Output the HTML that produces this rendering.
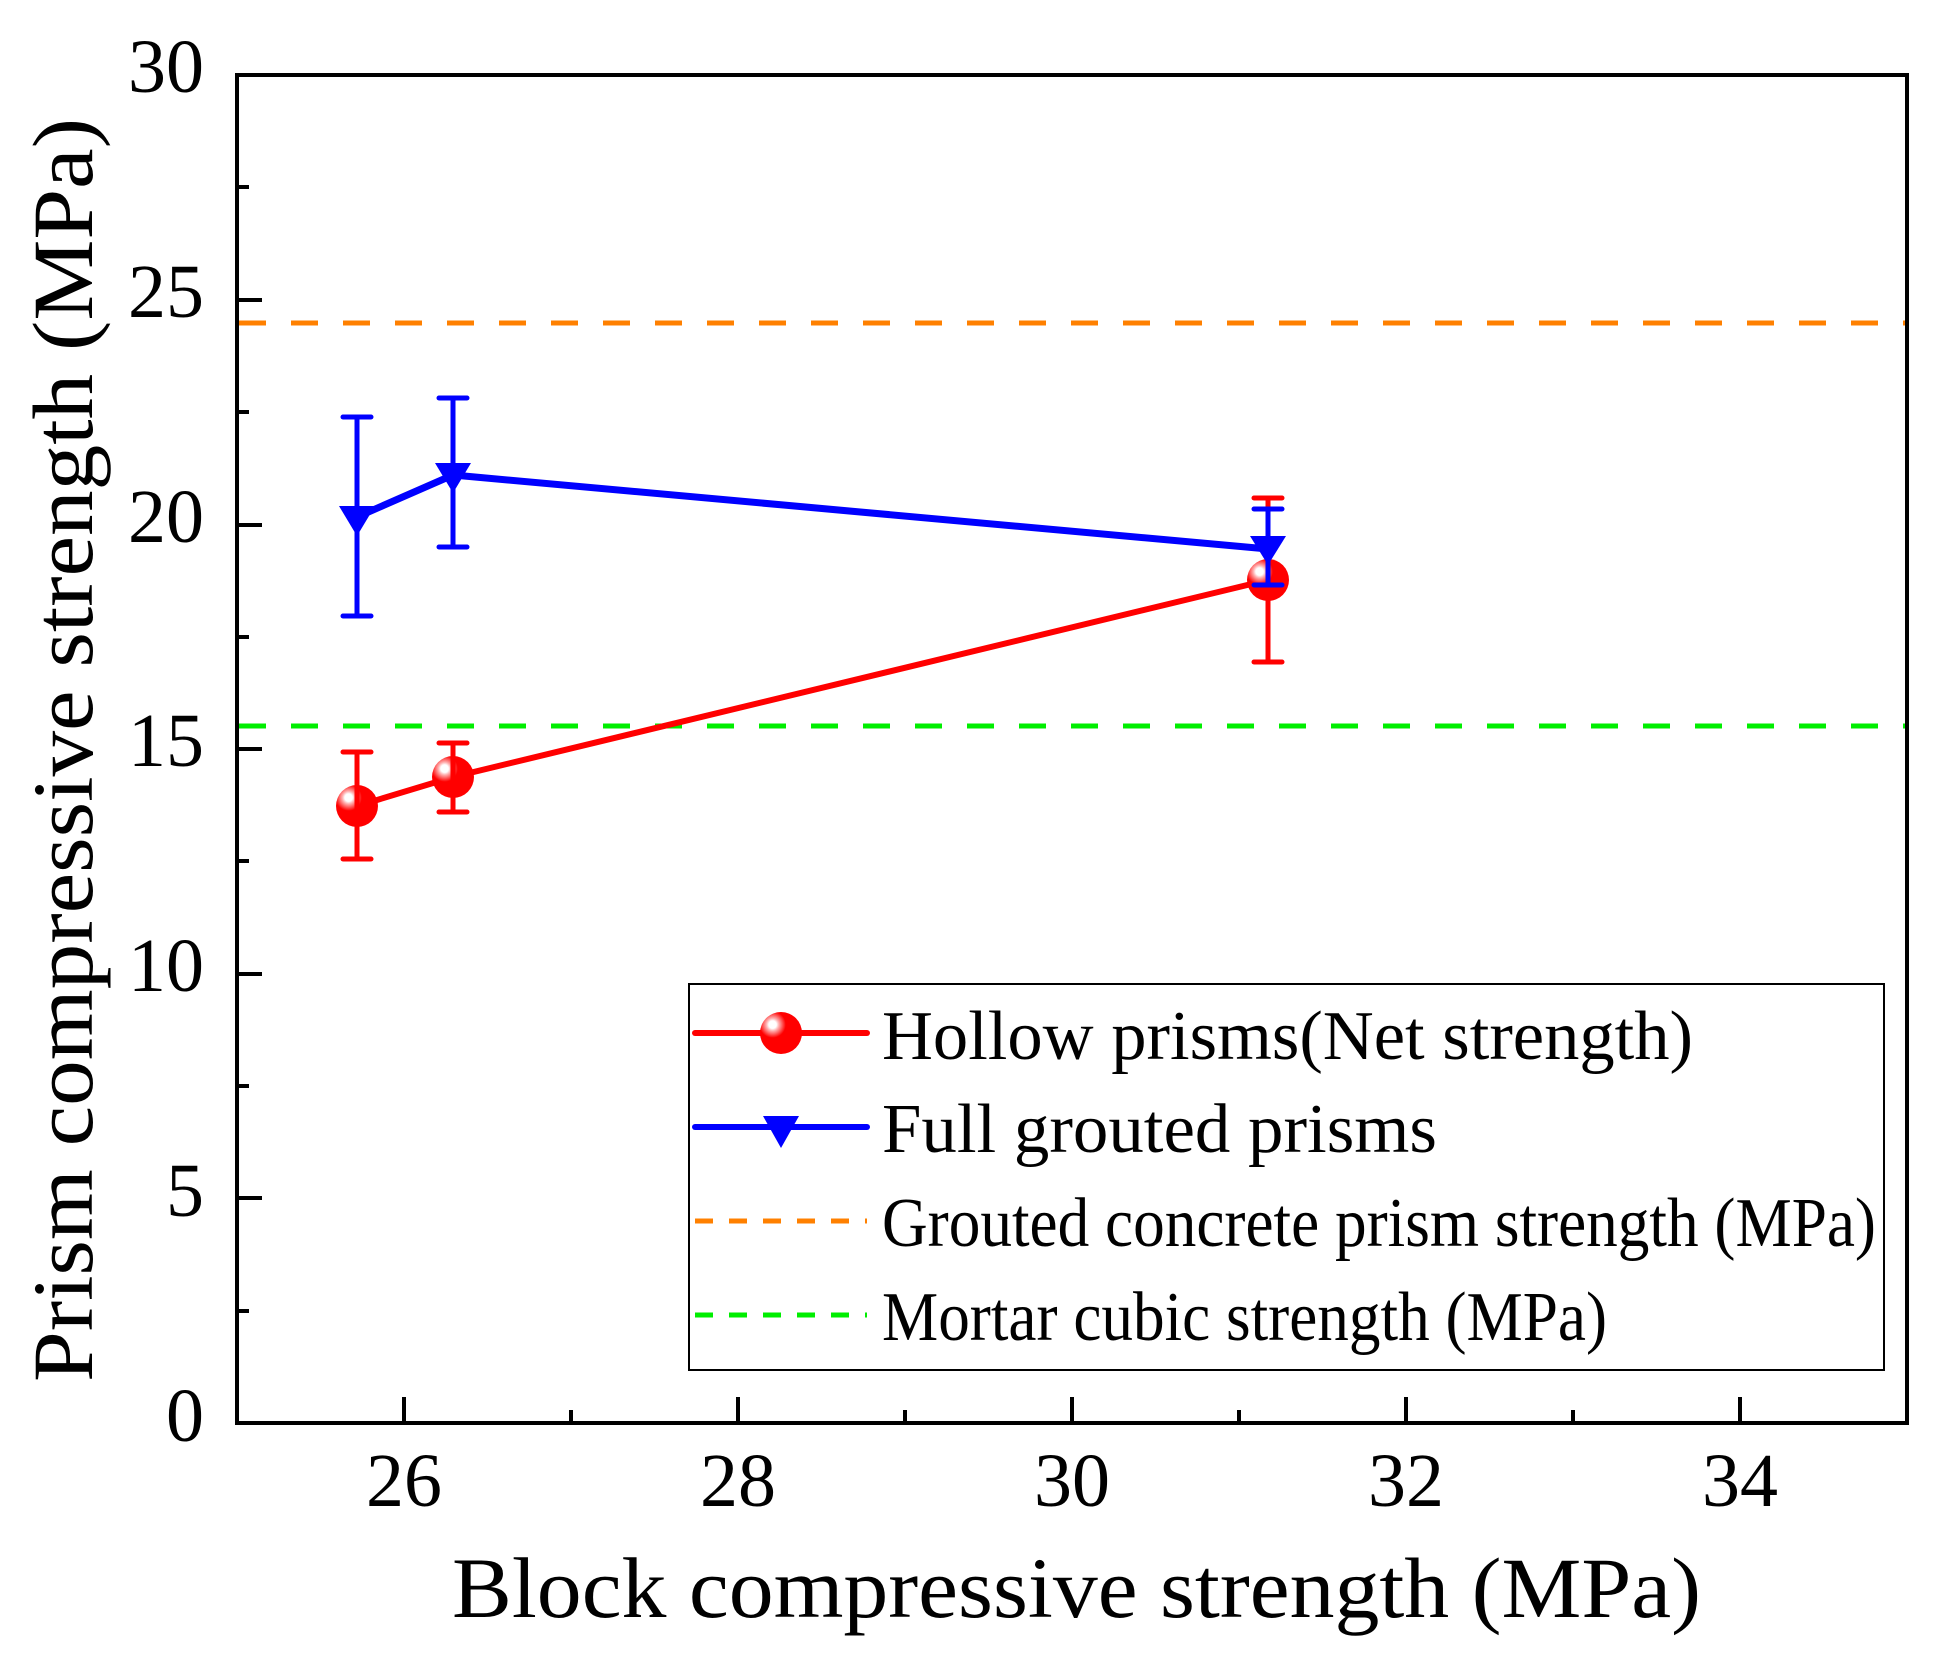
<!DOCTYPE html>
<html><head><meta charset="utf-8"><style>html,body{margin:0;padding:0;background:#fff}svg{display:block}</style></head>
<body>
<svg width="1939" height="1677" xmlns="http://www.w3.org/2000/svg" font-family="Liberation Serif, serif">
<defs>
<radialGradient id="sph" cx="0.3" cy="0.3" r="0.75">
<stop offset="0" stop-color="#fff"/><stop offset="0.12" stop-color="#fff"/><stop offset="0.2" stop-color="#ffb0b0"/><stop offset="0.3" stop-color="#ff6060"/><stop offset="0.42" stop-color="#ff0000"/><stop offset="1" stop-color="#ff0000"/>
</radialGradient>
</defs>
<rect width="1939" height="1677" fill="#fff"/>
<line x1="239" y1="323" x2="1905" y2="323" stroke="#ff8000" stroke-width="5" stroke-dasharray="27,25"/>
<line x1="239" y1="726" x2="1905" y2="726" stroke="#00ee00" stroke-width="5" stroke-dasharray="27,25"/>
<polyline points="357,517 453,475 1268,549" fill="none" stroke="#0000ff" stroke-width="7"/>
<polyline points="357,806 453,777 1268,580" fill="none" stroke="#ff0000" stroke-width="6"/>
<circle cx="357" cy="806" r="21" fill="url(#sph)"/>
<circle cx="453" cy="777" r="21" fill="url(#sph)"/>
<circle cx="1268" cy="580" r="21" fill="url(#sph)"/>
<polygon points="339,506 375,506 357,536" fill="#0000ff"/>
<polygon points="435,463 471,463 453,493" fill="#0000ff"/>
<polygon points="1250,536 1286,536 1268,565" fill="#0000ff"/>
<g stroke="#ff0000" stroke-width="5" stroke-linecap="round">
<line x1="357" y1="752" x2="357" y2="859"/><line x1="343" y1="752" x2="371" y2="752"/><line x1="343" y1="859" x2="371" y2="859"/>
<line x1="453" y1="743" x2="453" y2="812"/><line x1="439" y1="743" x2="467" y2="743"/><line x1="439" y1="812" x2="467" y2="812"/>
<line x1="1268" y1="498" x2="1268" y2="662"/><line x1="1254" y1="498" x2="1282" y2="498"/><line x1="1254" y1="662" x2="1282" y2="662"/>
</g>
<g stroke="#0000ff" stroke-width="5" stroke-linecap="round">
<line x1="357" y1="417" x2="357" y2="616"/><line x1="343" y1="417" x2="371" y2="417"/><line x1="343" y1="616" x2="371" y2="616"/>
<line x1="453" y1="398" x2="453" y2="547"/><line x1="439" y1="398" x2="467" y2="398"/><line x1="439" y1="547" x2="467" y2="547"/>
<line x1="1268" y1="509" x2="1268" y2="585"/><line x1="1254" y1="509" x2="1282" y2="509"/><line x1="1254" y1="585" x2="1282" y2="585"/>
</g>
<rect x="237" y="75" width="1670" height="1348" fill="none" stroke="#000" stroke-width="4"/>
<g stroke="#000" stroke-width="4">
<line x1="237" y1="300" x2="262" y2="300"/><line x1="237" y1="525" x2="262" y2="525"/><line x1="237" y1="749" x2="262" y2="749"/><line x1="237" y1="974" x2="262" y2="974"/><line x1="237" y1="1198" x2="262" y2="1198"/>
<line x1="237" y1="187" x2="249" y2="187"/><line x1="237" y1="412" x2="249" y2="412"/><line x1="237" y1="637" x2="249" y2="637"/><line x1="237" y1="861" x2="249" y2="861"/><line x1="237" y1="1086" x2="249" y2="1086"/><line x1="237" y1="1311" x2="249" y2="1311"/>
<line x1="404" y1="1423" x2="404" y2="1397"/><line x1="738" y1="1423" x2="738" y2="1397"/><line x1="1072" y1="1423" x2="1072" y2="1397"/><line x1="1406" y1="1423" x2="1406" y2="1397"/><line x1="1740" y1="1423" x2="1740" y2="1397"/>
<line x1="571" y1="1423" x2="571" y2="1410"/><line x1="905" y1="1423" x2="905" y2="1410"/><line x1="1239" y1="1423" x2="1239" y2="1410"/><line x1="1573" y1="1423" x2="1573" y2="1410"/>
</g>
<g font-size="76" text-anchor="end" fill="#000">
<text x="204" y="92">30</text><text x="204" y="317">25</text><text x="204" y="542">20</text><text x="204" y="766">15</text><text x="204" y="991">10</text><text x="204" y="1216">5</text><text x="204" y="1441">0</text>
</g>
<g font-size="76" text-anchor="middle" fill="#000">
<text x="404" y="1506">26</text><text x="738" y="1506">28</text><text x="1072" y="1506">30</text><text x="1406" y="1506">32</text><text x="1740" y="1506">34</text>
</g>
<text x="452" y="1617" font-size="86" textLength="1249" lengthAdjust="spacingAndGlyphs">Block compressive strength (MPa)</text>
<text transform="translate(92,1382) rotate(-90)" font-size="86" textLength="1264" lengthAdjust="spacingAndGlyphs">Prism compressive strength (MPa)</text>
<rect x="689" y="984" width="1195" height="386" fill="#fff" stroke="#000" stroke-width="2"/>
<line x1="695" y1="1033" x2="867" y2="1033" stroke="#ff0000" stroke-width="6" stroke-linecap="round"/>
<circle cx="781" cy="1033" r="21" fill="url(#sph)"/>
<line x1="695" y1="1127" x2="867" y2="1127" stroke="#0000ff" stroke-width="6" stroke-linecap="round"/>
<polygon points="763,1116 799,1116 781,1148" fill="#0000ff"/>
<line x1="695" y1="1221" x2="867" y2="1221" stroke="#ff8000" stroke-width="5" stroke-dasharray="18,16"/>
<line x1="695" y1="1315" x2="867" y2="1315" stroke="#00ee00" stroke-width="5" stroke-dasharray="18,16"/>
<g font-size="70" fill="#000">
<text x="882" y="1059" textLength="811" lengthAdjust="spacingAndGlyphs">Hollow prisms(Net strength)</text>
<text x="882" y="1152" textLength="555" lengthAdjust="spacingAndGlyphs">Full grouted prisms</text>
<text x="882" y="1246" textLength="994" lengthAdjust="spacingAndGlyphs">Grouted concrete prism strength (MPa)</text>
<text x="882" y="1340" textLength="725" lengthAdjust="spacingAndGlyphs">Mortar cubic strength (MPa)</text>
</g>
</svg>
</body></html>
